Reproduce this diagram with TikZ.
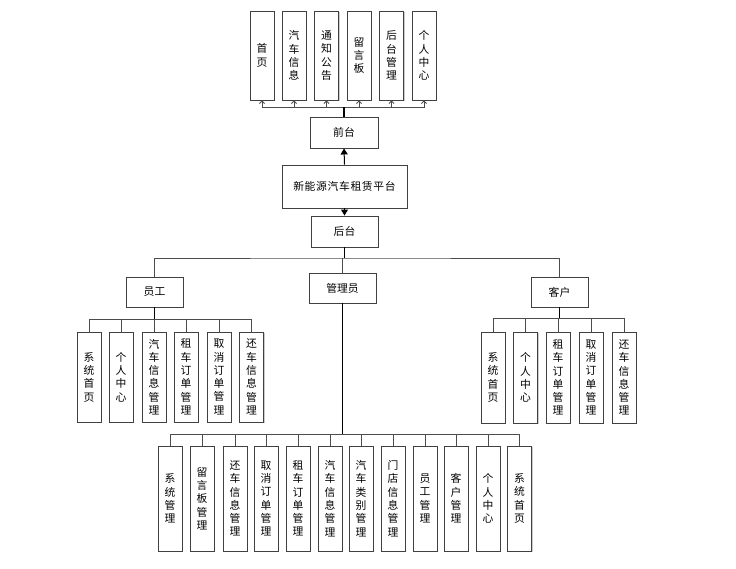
\documentclass[tikz,border=0pt]{standalone}
\usepackage{fontspec}
\newfontfamily\cjk{Noto Sans CJK SC}
\usetikzlibrary{arrows.meta,shadows}
\begin{document}
\begin{tikzpicture}[x=1pt,y=-1pt,
  box/.style={draw=black!75,line width=0.9pt,fill=white,rectangle,inner sep=0pt,
    drop shadow={shadow xshift=1pt,shadow yshift=-1pt,fill=black!20,opacity=1},
    font=\cjk\fontsize{10.8}{13.3}\selectfont,align=center},
  hbox/.style={box,minimum width=#1},
  vbox/.style={box,minimum width=24pt,minimum height=#1,text width=12pt},
  conn/.style={draw=black!70,line width=0.9pt},
  trunk/.style={draw=black,line width=1.4pt},
  uparr/.style={conn,-{Straight Barb[length=2.5pt,width=5pt]}},
  farr/.style={draw=black,line width=1pt,-{Triangle[length=6pt,width=7pt]}}]
\useasboundingbox (0,0) rectangle (736,568);
% top row
\node[vbox=89pt] (t1) at (262,55.5) {首\\页};
\node[vbox=89pt] (t2) at (294,55.5) {汽\\车\\信\\息};
\node[vbox=89pt] (t3) at (326.5,55.5) {通\\知\\公\\告};
\node[vbox=89pt] (t4) at (359,55.5) {留\\言\\板};
\node[vbox=89pt] (t5) at (391.5,55.5) {后\\台\\管\\理};
\node[vbox=89pt] (t6) at (424,55.5) {个\\人\\中\\心};
\node[hbox=68pt,minimum height=31pt] (front) at (344,132.5) {前台};
\node[hbox=125pt,minimum height=43pt] (plat) at (344.5,186.5) {\addfontfeature{LetterSpace=6}新能源汽车租赁平台};
\node[hbox=67pt,minimum height=31pt] (back) at (344.5,231.5) {后台};
\node[hbox=57pt,minimum height=30pt] (emp) at (154.5,292) {员工};
\node[hbox=67pt,minimum height=30pt] (adm) at (342.5,288) {管理员};
\node[hbox=57pt,minimum height=30pt] (cus) at (559.5,292) {客户};
% employee children
\node[vbox=90pt] (e1) at (89,377) {系\\统\\首\\页};
\node[vbox=90pt] (e2) at (121,377) {个\\人\\中\\心};
\node[vbox=90pt] (e3) at (154,377) {汽\\车\\信\\息\\管\\理};
\node[vbox=90pt] (e4) at (186,377) {租\\车\\订\\单\\管\\理};
\node[vbox=90pt] (e5) at (219,377) {取\\消\\订\\单\\管\\理};
\node[vbox=90pt] (e6) at (251.5,377) {还\\车\\信\\息\\管\\理};
% customer children
\node[vbox=91pt] (c1) at (493,377.5) {系\\统\\首\\页};
\node[vbox=91pt] (c2) at (525.5,377.5) {个\\人\\中\\心};
\node[vbox=91pt] (c3) at (558,377.5) {租\\车\\订\\单\\管\\理};
\node[vbox=91pt] (c4) at (591,377.5) {取\\消\\订\\单\\管\\理};
\node[vbox=91pt] (c5) at (624,377.5) {还\\车\\信\\息\\管\\理};
% admin children
\node[vbox=105pt] (a1) at (170,498.5) {系\\统\\管\\理};
\node[vbox=105pt] (a2) at (202,498.5) {留\\言\\板\\管\\理};
\node[vbox=105pt] (a3) at (235,498.5) {还\\车\\信\\息\\管\\理};
\node[vbox=105pt] (a4) at (266,498.5) {取\\消\\订\\单\\管\\理};
\node[vbox=105pt] (a5) at (298,498.5) {租\\车\\订\\单\\管\\理};
\node[vbox=105pt] (a6) at (330,498.5) {汽\\车\\信\\息\\管\\理};
\node[vbox=105pt] (a7) at (361,498.5) {汽\\车\\类\\别\\管\\理};
\node[vbox=105pt] (a8) at (393,498.5) {门\\店\\信\\息\\管\\理};
\node[vbox=105pt] (a9) at (425,498.5) {员\\工\\管\\理};
\node[vbox=105pt] (a10) at (456,498.5) {客\\户\\管\\理};
\node[vbox=105pt] (a11) at (488,498.5) {个\\人\\中\\心};
\node[vbox=105pt] (a12) at (519.5,498.5) {系\\统\\首\\页};
% coordinates
\coordinate (tb) at (344,107);
\coordinate (hb) at (344.5,258);
\coordinate (eb) at (154.5,319);
\coordinate (cb) at (559.5,318);
\coordinate (ab) at (342.5,434);
% top connectors
\foreach \i in {1,...,6} \draw[uparr] (tb) -| (t\i.south);
\draw[trunk] (front.north) -- (tb);
\draw[farr] (plat.north) -- (front.south);
\draw[farr] (plat.south) -- (back.north);
% back to roles
\draw[trunk] (back.south) -- (hb);
\draw[conn] (emp.north) |- (hb) -| (cus.north);
\draw[conn] (adm.north) -- (adm.north |- hb);
% employee
\draw[trunk] (emp.south) -- (eb);
\foreach \i in {1,...,6} \draw[conn] (eb) -| (e\i.north);
% customer
\draw[trunk] (cus.south) -- (cb);
\foreach \i in {1,...,5} \draw[conn] (cb) -| (c\i.north);
% admin
\draw[trunk] (adm.south) -- (ab);
\foreach \i in {1,...,12} \draw[conn] (ab) -| (a\i.north);
\end{tikzpicture}
\end{document}
